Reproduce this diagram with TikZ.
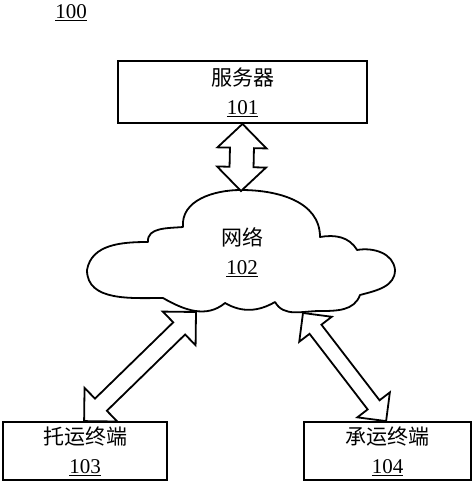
\documentclass[tikz,border=0pt]{standalone}
\usepackage{fontspec}
\setmainfont{Liberation Serif}
\newfontfamily\cjk{Noto Sans CJK SC}
\usetikzlibrary{calc}
\tikzset{
  box/.style={draw, line width=1.8pt, rectangle, align=center, inner sep=0pt,
    font=\fontsize{21}{29}\selectfont},
  label100/.style={font=\fontsize{21}{25}\selectfont, inner sep=0pt},
  netlabel/.style={align=center, inner sep=0pt, font=\fontsize{21}{29}\selectfont},
  cloudline/.style={draw, line width=1.8pt, line join=round},
  dblarr/.style={draw, fill=white, line width=1.8pt, line join=miter}
}
% #1 start, #2 end, #3 shaft half-width, #4 head half-width, #5 head length
\newcommand\dblarrow[5]{%
  \coordinate (da) at ($(#1)!#5!(#2)$);
  \coordinate (db) at ($(#2)!#5!(#1)$);
  \draw[dblarr] (#1) -- ($(da)!#4!90:(#2)$) -- ($(da)!#3!90:(#2)$)
     -- ($(db)!#3!-90:(#1)$) -- ($(db)!#4!-90:(#1)$) -- (#2)
     -- ($(db)!#4!90:(#1)$) -- ($(db)!#3!90:(#1)$)
     -- ($(da)!#3!-90:(#2)$) -- ($(da)!#4!-90:(#2)$) -- cycle;}
\begin{document}
\begin{tikzpicture}[x=1pt, y=-1pt]
\useasboundingbox (0,0) rectangle (474,484);

\node[label100] (sys) at (71,13) {\underline{100}};

\node[box, minimum width=249pt, minimum height=62pt] (srv) at (242.5,92)
  {{\cjk 服务器}\\\underline{101}};
\node[box, minimum width=164pt, minimum height=58pt] (t103) at (85,451)
  {{\cjk 托运终端}\\\underline{103}};
\node[box, minimum width=167pt, minimum height=58pt] (t104) at (387.5,451)
  {{\cjk 承运终端}\\\underline{104}};

% cloud
\draw[cloudline] (87,270) to[out=80,in=180] (148,242)
  to[out=95,in=185] (183,227)
  to[out=95,in=180] (241,190)
  to[out=0,in=90] (320,237)
  to[out=10,in=120] (357,250)
  to[out=10,in=95] (395,270)
  to[out=-90,in=15] (360,295)
  to[out=-110,in=0] (320,311)
  to[out=180,in=-60] (275,302)
  to[out=-150,in=-30] (225,303)
  to[out=-140,in=-30] (163,298)
  to[out=180,in=-90] cycle;
\node[netlabel] (net) at (242,252) {{\cjk 网络}\\\underline{102}};

\coordinate (cloudtop) at (241,191);
\coordinate (cloudbl) at (196,312);
\coordinate (cloudbr) at (303,313);
\coordinate (t103top) at ($(t103.north west)+(82,0)$);
\coordinate (t104top) at ($(t104.north west)+(83,0)$);

\dblarrow{srv.south}{cloudtop}{12pt}{24.5pt}{24pt}
\dblarrow{t103top}{cloudbl}{8.5pt}{23.5pt}{23.5pt}
\dblarrow{t104top}{cloudbr}{7.5pt}{20.5pt}{20.5pt}
\end{tikzpicture}
\end{document}
